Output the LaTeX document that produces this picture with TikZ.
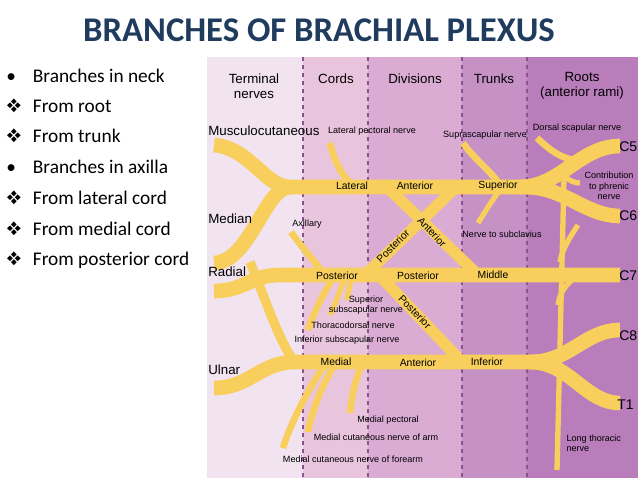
\documentclass[tikz,border=0pt]{standalone}
\usepackage{fontspec}
\setmainfont{Liberation Sans}
\newfontfamily\calfont{Carlito}
\usepackage{pifont}
\begin{document}
\pgfdeclarelayer{outl}
\pgfsetlayers{outl,main}
\begin{tikzpicture}[x=0.75pt,y=-0.75pt,
  lab/.style={font=\fontsize{6.8}{7.8}\selectfont,inner sep=1pt},
  hdr/.style={font=\fontsize{10}{11.5}\selectfont,align=center},
  root/.style={font=\fontsize{10.5}{12}\selectfont,anchor=west,inner sep=0pt},
  cord/.style={font=\fontsize{7.8}{8}\selectfont,inner sep=0pt},
  item/.style={font=\calfont\fontsize{14.5}{16}\selectfont,anchor=west,inner sep=0pt},
  divdash/.style={draw=divline,dashed,line width=0.8pt}]
\definecolor{ttl}{HTML}{1F3B5E}
\definecolor{nv}{HTML}{F8CF5C}
\definecolor{nvd}{HTML}{D9A33A}
\definecolor{divline}{HTML}{8E4F93}
\newcommand\nerve[2]{%
  \begin{pgfonlayer}{outl}\draw[draw=nvd,line width=#1pt+1.2pt] #2;\end{pgfonlayer}
  \draw[draw=nv,line width=#1pt] #2;}
\newcommand\bul{\makebox[20pt][l]{\textbullet}}
\newcommand\dia{\makebox[20pt][l]{\ding{118}}}
\useasboundingbox (0,0) rectangle (638,479);
\fill[white] (0,0) rectangle (638,479);
\node[font=\calfont\bfseries\fontsize{26}{30}\selectfont,text=ttl] (title) at (319,30) {BRANCHES OF BRACHIAL PLEXUS};
\node[item] (i1) at (6,76) {\bul Branches in neck};
\node[item] (i2) at (6,106) {\dia From root};
\node[item] (i3) at (6,136) {\dia From trunk};
\node[item] (i4) at (6,167) {\bul Branches in axilla};
\node[item] (i5) at (6,198) {\dia From lateral cord};
\node[item] (i6) at (6,229) {\dia From medial cord};
\node[item] (i7) at (6,260) {\dia From posterior cord};
% backgrounds
\fill[color={rgb,255:red,241;green,228;blue,240}] (207,57) rectangle (303,478);
\fill[color={rgb,255:red,233;green,196;blue,221}] (303,57) rectangle (368,478);
\fill[color={rgb,255:red,218;green,172;blue,212}] (368,57) rectangle (462,478);
\fill[color={rgb,255:red,198;green,146;blue,198}] (462,57) rectangle (527,478);
\fill[color={rgb,255:red,184;green,125;blue,186}] (527,57) rectangle (638,478);
\foreach \x in {303,368,462,527} \draw[divdash] (\x,57) -- (\x,478);
% headers
\node[hdr] (h1) at (254,86) {Terminal\\nerves};
\node[hdr] (h2) at (336,79) {Cords};
\node[hdr] (h3) at (415,79) {Divisions};
\node[hdr] (h4) at (494,79) {Trunks};
\node[hdr] (h5) at (582,86) {Roots\\(anterior rami)};
% main nerves
\nerve{11}{(214,145) .. controls (250,148) and (265,187) .. (290,187) -- (540,187)}
\nerve{11}{(290,187) .. controls (265,187) and (250,262) .. (214,263)}
\nerve{11}{(620,146) .. controls (580,146) and (560,187) .. (520,187)}
\nerve{11}{(620,216) .. controls (585,216) and (565,187) .. (525,187)}
\nerve{11}{(214,291) .. controls (245,291) and (250,275) .. (280,275) -- (620,275)}
\nerve{11}{(214,388) .. controls (250,388) and (260,362) .. (295,362) -- (545,362)}
\nerve{11}{(620,330) .. controls (585,330) and (570,362) .. (530,362)}
\nerve{11}{(620,403) .. controls (585,403) and (570,362) .. (530,362)}
\nerve{7}{(250,262) .. controls (262,290) and (280,345) .. (295,362)}
% divisions
\nerve{8.5}{(388,188) -- (478,275)}
\nerve{8.5}{(455,188) -- (365,275)}
\nerve{8.5}{(380,276) -- (462,362)}
% axillary
\nerve{5}{(291,232) .. controls (300,245) and (315,262) .. (325,275)}
% small branches
\nerve{5}{(330,143) .. controls (335,165) and (345,180) .. (355,187)}
\nerve{5}{(463,143) .. controls (475,160) and (490,170) .. (500,185)}
\nerve{4}{(500,190) .. controls (492,200) and (485,212) .. (478,223)}
\nerve{5}{(537,138) .. controls (550,150) and (560,158) .. (575,160)}
\nerve{4}{(567,162) .. controls (560,172) and (565,182) .. (580,183)}
\nerve{4}{(564,178) -- (557,470)}
\nerve{4}{(578,225) .. controls (568,240) and (562,250) .. (560,262)}
\nerve{4}{(578,275) .. controls (565,285) and (560,292) .. (558,305)}
\nerve{4}{(352,275) .. controls (350,285) and (348,292) .. (347,300)}
\nerve{4}{(346,275) .. controls (340,290) and (335,305) .. (330,315)}
\nerve{5}{(335,275) .. controls (322,295) and (313,315) .. (308,330)}
\nerve{5}{(363,362) .. controls (355,380) and (352,395) .. (350,413)}
\nerve{5}{(335,364) .. controls (322,385) and (312,410) .. (308,432)}
\nerve{5}{(325,364) .. controls (305,395) and (290,425) .. (283,448)}
% labels in nerves
\node[cord] (l1) at (352,186) {Lateral};
\node[cord] (l2) at (415,186) {Anterior};
\node[cord] (l3) at (498,186) {Superior};
\node[cord] (l4) at (337,276) {Posterior};
\node[cord] (l5) at (418,276) {Posterior};
\node[cord] (l6) at (493,275) {Middle};
\node[cord] (l7) at (336,362) {Medial};
\node[cord] (l8) at (418,363) {Anterior};
\node[cord] (l9) at (487,362) {Inferior};
\node[cord,rotate=-47] (l10) at (432,232) {Anterior};
\node[cord,rotate=45] (l11) at (393,246) {Posterior};
\node[cord,rotate=-46] (l12) at (415,312) {Posterior};
% terminal labels
\node[hdr,anchor=west,inner sep=0pt] (m1) at (208,131) {Musculocutaneous};
\node[hdr,anchor=west,inner sep=0pt] (m2) at (208,219) {Median};
\node[hdr,anchor=west,inner sep=0pt] (m3) at (208,272) {Radial};
\node[hdr,anchor=west,inner sep=0pt] (m4) at (208,370) {Ulnar};
% roots
\node[root] (c5) at (619,147) {C5};
\node[root] (c6) at (619,216) {C6};
\node[root] (c7) at (619,276) {C7};
\node[root] (c8) at (619,336) {C8};
\node[root] (t1) at (617,405) {T1};
% branch labels
\node[lab] at (372,131) {Lateral pectoral nerve};
\node[lab] at (485,135) {Suprascapular nerve};
\node[lab] at (577,128) {Dorsal scapular nerve};
\node[lab,align=center] at (609,186) {Contribution\\to phrenic\\nerve};
\node[lab] at (502,234) {Nerve to subclavius};
\node[lab] at (307,224) {Axillary};
\node[lab,align=center] at (366,305) {Superior\\subscapular nerve};
\node[lab] at (353,325) {Thoracodorsal nerve};
\node[lab] at (347,340) {Inferior subscapular nerve};
\node[lab] at (388,420) {Medial pectoral};
\node[lab] at (376,437) {Medial cutaneous nerve of arm};
\node[lab] at (353,459) {Medial cutaneous nerve of forearm};
\node[lab,align=left,anchor=west] at (565,443) {Long thoracic\\nerve};
\end{tikzpicture}
\end{document}
